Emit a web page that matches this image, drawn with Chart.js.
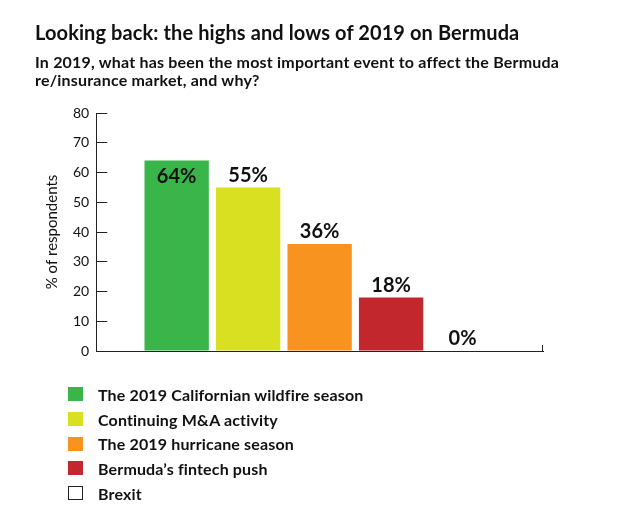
<!DOCTYPE html>
<html>
<head>
<meta charset="utf-8">
<script src="https://cdn.jsdelivr.net/npm/chart.js@4.4.0/dist/chart.umd.min.js"></script>
<style>
  html, body { margin: 0; padding: 0; background: #fff; }
  #wrap { position: relative; width: 640px; height: 524px; overflow: hidden; font-family: Lato, sans-serif; color: #111; }
  #chartBox { position: absolute; left: 0; top: 0; width: 640px; height: 524px; }
  #title { position: absolute; left: 35px; top: 20px; font-size: 20px; line-height: 24px; font-weight: 700; letter-spacing: 0.1px; white-space: nowrap; }
  #subtitle { position: absolute; left: 35px; top: 52.5px; font-size: 16px; line-height: 18.5px; font-weight: 700; letter-spacing: 0.2px; white-space: nowrap; }
  #legend { position: absolute; left: 68px; top: 382px; }
  .row { display: flex; align-items: center; height: 24.7px; font-size: 16px; font-weight: 700; letter-spacing: 0.15px; white-space: nowrap; }
  .sw { width: 15px; height: 14px; margin-right: 15px; box-sizing: border-box; }
</style>
</head>
<body>
<div id="wrap">
  <div id="chartBox"><canvas id="c"></canvas></div>
  <div id="title"></div>
  <div id="subtitle"></div>
  <div id="legend"></div>
</div>
<script>
const titleText = "Looking back: the highs and lows of 2019 on Bermuda";
const subtitleLines = ["In 2019, what has been the most important event to affect the Bermuda", "re/insurance market, and why?"];
const categories = ["The 2019 Californian wildfire season", "Continuing M&A activity", "The 2019 hurricane season", "Bermuda\u2019s fintech push", "Brexit"];
const values = [64, 55, 36, 18, 0];
const barColors = ["#39B54A", "#D9E021", "#F7931E", "#C1272D", "#FFFFFF"];
const legendBorders = ["#39B54A", "#D9E021", "#F7931E", "#C1272D", "#222222"];
const yTitle = "% of respondents";
const yTicks = [0, 10, 20, 30, 40, 50, 60, 70, 80];

document.getElementById('title').textContent = titleText;
document.getElementById('subtitle').innerHTML = subtitleLines.map(s => s.replace(/&/g,'&amp;')).join('<br>');
const leg = document.getElementById('legend');
categories.forEach((c, i) => {
  const r = document.createElement('div'); r.className = 'row';
  const s = document.createElement('div'); s.className = 'sw';
  s.style.background = barColors[i];
  if (barColors[i] === '#FFFFFF') s.style.border = '1px solid ' + legendBorders[i];
  const t = document.createElement('span'); t.textContent = categories[i];
  r.appendChild(s); r.appendChild(t); leg.appendChild(r);
});

Chart.defaults.font.family = 'Lato, sans-serif';
Chart.defaults.color = '#111';

const valueLabels = {
  id: 'valueLabels',
  afterDatasetsDraw(chart) {
    const ctx = chart.ctx;
    const meta = chart.getDatasetMeta(0);
    ctx.save();
    ctx.font = '700 20px Lato, sans-serif';
    ctx.fillStyle = '#111';
    ctx.textAlign = 'center';
    ctx.textBaseline = 'middle';
    meta.data.forEach((bar, i) => {
      const v = values[i];
      const inside = v >= 60;
      const y = inside ? bar.y + 16 : bar.y - 12;
      ctx.fillText(v + '%', bar.x, y);
    });
    ctx.restore();
  }
};

const axisEnd = {
  id: 'axisEnd',
  afterDraw(chart) {
    const a = chart.chartArea, ctx = chart.ctx;
    ctx.save();
    ctx.strokeStyle = '#222';
    ctx.lineWidth = 1;
    ctx.beginPath();
    ctx.moveTo(Math.round(a.right) - 0.5, a.bottom);
    ctx.lineTo(Math.round(a.right) - 0.5, a.bottom - 6);
    ctx.stroke();
    ctx.restore();
  }
};

new Chart(document.getElementById('c'), {
  type: 'bar',
  data: {
    labels: categories,
    datasets: [{
      data: values.map((v, i) => ({ x: i, y: v })),
      backgroundColor: barColors,
      borderWidth: 0,
      barPercentage: 0.9,
      categoryPercentage: 1.0
    }]
  },
  options: {
    responsive: true,
    maintainAspectRatio: false,
    animation: false,
    layout: { padding: { left: 35, right: 97, top: 113, bottom: 173 } },
    plugins: { legend: { display: false }, tooltip: { enabled: false }, title: { display: false } },
    scales: {
      x: {
        type: 'linear',
        offset: false,
        min: -1.125,
        max: 5.125,
        grid: { display: false, drawTicks: false },
        border: { display: true, color: '#222', width: 1 },
        ticks: { display: false }
      },
      y: {
        min: yTicks[0],
        max: yTicks[yTicks.length - 1],
        afterBuildTicks(scale) { scale.ticks = yTicks.map(v => ({ value: v })); },
        grid: { drawOnChartArea: false, drawTicks: true, tickLength: -11, color: '#222' },
        border: { display: true, color: '#222', width: 1 },
        ticks: { padding: 18, font: { size: 14 }, color: '#111' },
        title: { display: true, text: yTitle, font: { size: 15 }, color: '#111', padding: { top: 8, bottom: -6 } }
      }
    }
  },
  plugins: [valueLabels, axisEnd]
});
</script>
</body>
</html>
